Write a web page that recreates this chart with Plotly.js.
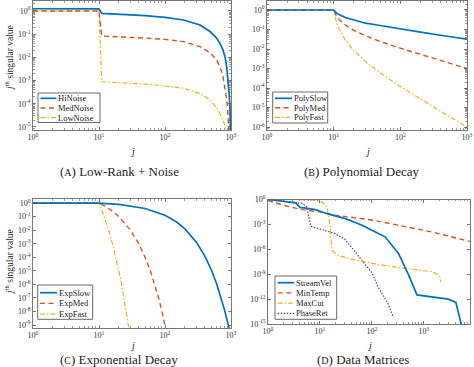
<!DOCTYPE html>
<html><head><meta charset="utf-8">
<script src="https://cdn.plot.ly/plotly-3.0.1.min.js"></script>
<style>html,body{margin:0;padding:0;background:#fff}#chart{width:474px;height:367px}</style>
</head><body><div id="chart"></div>
<script>
// ---------- DATA ----------
// (A) Low-Rank + Noise
const jHiNoise  = [1, 10, 11, 15, 20, 30, 50, 100, 190, 340, 480, 600, 680, 750, 810, 860, 910, 940, 966, 985, 1000];
const hiNoise   = [1.25, 1.22, 0.79, 0.76, 0.74, 0.70, 0.63, 0.53, 0.41, 0.25, 0.13, 0.07, 0.04, 0.022, 0.011, 0.004, 8e-4, 2.5e-4, 5e-5, 1e-5, 1e-6];
const jMedNoise = [1, 10, 11, 20, 50, 100, 190, 340, 480, 600, 680, 750, 810, 860, 890, 920, 940, 960];
const medNoise  = [1, 1, 0.083, 0.078, 0.068, 0.06, 0.048, 0.029, 0.016, 0.008, 0.004, 0.0017, 5.5e-4, 1.6e-4, 5.4e-5, 2e-5, 1e-5, 1e-6];
const jLowNoise = [1, 10, 11, 20, 59, 190, 340, 480, 600, 680, 750, 810, 870, 900];
const lowNoise  = [1, 1, 8.9e-4, 8.3e-4, 6.9e-4, 4.7e-4, 2.8e-4, 1.45e-4, 7e-5, 3.9e-5, 2.2e-5, 1.2e-5, 5e-6, 1e-6];

// (B) Polynomial Decay
const jPoly    = [1, 10, 11, 12, 15, 20, 30, 50, 100, 200, 500, 1000];
const polySlow = [1, 1, 0.71, 0.58, 0.41, 0.30, 0.21, 0.16, 0.105, 0.073, 0.045, 0.032];
const polyMed  = [1, 1, 0.5, 0.33, 0.17, 0.09, 0.048, 0.024, 0.011, 0.0052, 0.002, 0.001];
const polyFast = [1, 1, 0.25, 0.11, 0.028, 0.0083, 0.0023, 5.9e-4, 1.2e-4, 2.7e-5, 4.1e-6, 1.0e-6];

// (C) Exponential Decay
const jExpSlow = [1, 10, 20, 50, 100, 150, 200, 300, 400, 500, 600, 700, 800, 900, 1000];
const expSlow  = [1, 1, 0.79, 0.40, 0.126, 0.040, 0.0126, 1.26e-3, 1.26e-4, 1.26e-5, 1.26e-6, 1.26e-7, 1.26e-8, 1.26e-9, 1.26e-10];
const jExpMed  = [1, 10, 12, 15, 20, 30, 40, 50, 60, 70, 80, 90, 100, 110];
const expMed   = [1, 1, 0.63, 0.32, 0.1, 0.01, 1e-3, 1e-4, 1e-5, 1e-6, 1e-7, 1e-8, 1e-9, 1e-10];
const jExpFast = [1, 10, 11, 12, 14, 16, 18, 20, 22, 24, 26, 28, 30];
const expFast  = [1, 1, 0.32, 0.1, 0.01, 1e-3, 1e-4, 1e-5, 1e-6, 1e-7, 1e-8, 1e-9, 1e-10];

// (D) Data Matrices
const jStreamVel = [1, 2, 3.4, 4.2, 5, 8.1, 14.8, 31, 65, 100, 180, 325, 500, 740, 1420, 2960, 4150, 4650, 5250];
const streamVel  = [1, 0.55, 0.4, 0.107, 0.1, 0.06, 0.017, 5e-3, 7.9e-4, 2e-4, 3.2e-5, 3.2e-7, 1.1e-9, 3.2e-12, 2e-12, 1e-12, 4e-13, 1.6e-14, 1e-15];
const jMinTemp   = [1, 2, 4.5, 10.8, 19.5, 50, 106, 325, 1420, 6200, 7800];
const minTemp    = [0.75, 0.2, 0.06, 0.03, 0.013, 0.0058, 3.2e-3, 7.9e-4, 1.25e-4, 1.25e-5, 9e-6];
const jMaxCut    = [1, 3, 7, 10.9, 13.7, 15.8, 17, 21.3, 35.8, 100, 325, 1420, 1770, 2050, 2150];
const maxCut     = [1, 0.98, 0.9, 0.52, 0.13, 5e-4, 8e-7, 2e-7, 8e-8, 2e-8, 6.3e-9, 2e-9, 1.1e-9, 4.5e-10, 1.1e-10];
const jPhaseRet  = [1, 3, 4.5, 5.5, 6.7, 10.8, 19.5, 30.5, 48, 74, 100, 133, 207, 260];
const phaseRet   = [1, 0.5, 0.35, 0.15, 6e-4, 2.4e-4, 8e-5, 1.6e-5, 5e-7, 1.6e-8, 1.5e-9, 2.5e-11, 2.5e-13, 6.3e-15];

// legend names
const namesA = ['HiNoise', 'MedNoise', 'LowNoise'];
const namesB = ['PolySlow', 'PolyMed', 'PolyFast'];
const namesC = ['ExpSlow', 'ExpMed', 'ExpFast'];
const namesD = ['StreamVel', 'MinTemp', 'MaxCut', 'PhaseRet'];

// tick label exponents
const xTickExp  = [0, 1, 2, 3];
const yTickExpA = [0, -1, -2, -3, -4, -5];
const yTickExpB = [0, -1, -2, -3, -4, -5, -6];
const yTickExpC = [0, -1, -2, -3, -4, -5, -6, -7, -8, -9];
const yTickExpD = [0, -3, -6, -9, -12, -15];

// captions
const captions = ['(<span style="font-size:10px">A</span>) Low-Rank + Noise', '(<span style="font-size:10px">B</span>) Polynomial Decay',
                  '(<span style="font-size:10px">C</span>) Exponential Decay', '(<span style="font-size:10px">D</span>) Data Matrices'];

// ---------- STYLE ----------
const W = 474, H = 367;
const FONT = 'Liberation Serif, Times New Roman, serif';
const styles = [
  {color: '#0072BD', width: 1.7, dash: 'solid'},
  {color: '#D95319', width: 1.4, dash: '5px,3.5px'},
  {color: '#EDB120', width: 1.2, dash: '5px,2px,1.5px,2px'},
  {color: '#7E2F8E', width: 1.2, dash: '1.5px,1.5px'}
];
const px = x => x / W;
const py = y => 1 - y / H;

function lab(e) { return '10<sup>' + (e < 0 ? '-' + (-e) : e) + '</sup>'; }
function minorVals(lo, hi) {
  const v = [];
  for (let k = lo; k < hi; k++) for (let m = 2; m <= 9; m++) v.push(m * Math.pow(10, k));
  return v;
}
function logAxis(domain, range, exps, anchor, minor) {
  const ax = {
    type: 'log', domain: domain, range: range, anchor: anchor,
    tickmode: 'array', tickvals: exps.map(e => Math.pow(10, e)), ticktext: exps.map(lab),
    ticks: 'inside', ticklen: 3, tickwidth: 0.8, tickcolor: '#555',
    showline: true, linecolor: '#555', linewidth: 0.8, mirror: 'ticks',
    showgrid: false, zeroline: false, fixedrange: true,
    tickfont: {family: FONT, size: 8, color: '#333'}
  };
  if (minor) ax.minor = {tickmode: 'array', tickvals: minorVals(minor[0], minor[1]), ticks: 'inside',
                         ticklen: 1.8, tickwidth: 0.6, tickcolor: '#555', showgrid: false};
  return ax;
}

// ---------- TRACES ----------
function tr(x, y, name, s, xa, ya) {
  return {x: x, y: y, name: name, type: 'scatter', mode: 'lines', xaxis: xa, yaxis: ya, showlegend: false,
          line: {color: s.color, width: s.width, dash: s.dash}, hoverinfo: 'skip'};
}
const data = [
  tr(jLowNoise, lowNoise, namesA[2], styles[2], 'x', 'y'),
  tr(jMedNoise, medNoise, namesA[1], styles[1], 'x', 'y'),
  tr(jHiNoise, hiNoise, namesA[0], styles[0], 'x', 'y'),
  tr(jPoly, polyFast, namesB[2], styles[2], 'x2', 'y2'),
  tr(jPoly, polyMed, namesB[1], styles[1], 'x2', 'y2'),
  tr(jPoly, polySlow, namesB[0], styles[0], 'x2', 'y2'),
  tr(jExpFast, expFast, namesC[2], styles[2], 'x3', 'y3'),
  tr(jExpMed, expMed, namesC[1], styles[1], 'x3', 'y3'),
  tr(jExpSlow, expSlow, namesC[0], styles[0], 'x3', 'y3'),
  tr(jPhaseRet, phaseRet, namesD[3], styles[3], 'x4', 'y4'),
  tr(jMaxCut, maxCut, namesD[2], styles[2], 'x4', 'y4'),
  tr(jMinTemp, minTemp, namesD[1], styles[1], 'x4', 'y4'),
  tr(jStreamVel, streamVel, namesD[0], styles[0], 'x4', 'y4')
];

// ---------- LAYOUT ----------
const dA = {x: [px(33), px(231)], y: [py(130), py(1)]};
const dB = {x: [px(267), px(467)], y: [py(130), py(1)]};
const dC = {x: [px(33), px(231)], y: [py(328), py(199)]};
const dD = {x: [px(268), px(470)], y: [py(324), py(199.5)]};

const shapes = [], annotations = [];
function legendBox(box, y0, step, lx0, lx1, names) {
  shapes.push({type: 'rect', xref: 'paper', yref: 'paper', x0: px(box[0]), x1: px(box[2]), y0: py(box[3]), y1: py(box[1]),
               fillcolor: '#fff', line: {color: '#444', width: 0.8}, layer: 'above'});
  names.forEach((n, i) => {
    const y = y0 + i * step, s = styles[i];
    shapes.push({type: 'line', xref: 'paper', yref: 'paper', x0: px(lx0), x1: px(lx1), y0: py(y), y1: py(y),
                 line: {color: s.color, width: s.width, dash: s.dash}, layer: 'above'});
    annotations.push({xref: 'paper', yref: 'paper', x: px(lx1 + 0.5), y: py(y), xanchor: 'left', yanchor: 'middle',
                      text: n, showarrow: false, borderpad: 0, font: {family: FONT, size: 8.5, color: '#222'}});
  });
}
legendBox([38, 93, 100, 122.5], 98.3, 9.7, 40.5, 56.5, namesA);
legendBox([272.7, 92, 327.7, 123], 98.3, 9.5, 275, 292, namesB);
legendBox([37.7, 285, 92.7, 319.3], 292.7, 10.7, 40, 57, namesC);
legendBox([275, 276, 336.7, 319.3], 282.7, 10.2, 277.7, 294.3, namesD);

function textAt(x, y, text, size, extra) {
  annotations.push(Object.assign({xref: 'paper', yref: 'paper', x: px(x), y: py(y), xanchor: 'center', yanchor: 'middle',
                    text: text, showarrow: false, font: {family: FONT, size: size, color: '#222'}}, extra || {}));
}
// x titles
textAt(132, 151, '<i>j</i>', 10);
textAt(367, 151, '<i>j</i>', 10);
textAt(132, 345, '<i>j</i>', 10);
textAt(369, 345, '<i>j</i>', 10);
// y titles
textAt(9, 58, '<i>j</i><sup>th</sup> singular value', 9.5, {textangle: -90});
textAt(9, 262, '<i>j</i><sup>th</sup> singular value', 9.5, {textangle: -90});
// captions
textAt(119, 171, captions[0], 13);
textAt(361, 171, captions[1], 13);
textAt(119, 359, captions[2], 13);
textAt(363, 359, captions[3], 13);

const layout = {
  width: W, height: H, margin: {l: 0, r: 0, t: 0, b: 0},
  paper_bgcolor: '#fff', plot_bgcolor: '#fff', showlegend: false,
  xaxis:  logAxis(dA.x, [0, 3], xTickExp, 'y', [0, 3]),
  yaxis:  logAxis(dA.y, [-5.13, 0.43], yTickExpA, 'x', [-6, 1]),
  xaxis2: logAxis(dB.x, [0, 3], xTickExp, 'y2', [0, 3]),
  yaxis2: logAxis(dB.y, [-6.15, 0.46], yTickExpB, 'x2', [-7, 1]),
  xaxis3: logAxis(dC.x, [0, 3], xTickExp, 'y3', [0, 3]),
  yaxis3: logAxis(dC.y, [-9.22, 0.3], yTickExpC, 'x3', null),
  xaxis4: logAxis(dD.x, [0, 3.89], xTickExp, 'y4', [0, 4]),
  yaxis4: logAxis(dD.y, [-15, 0], yTickExpD, 'x4', null),
  shapes: shapes, annotations: annotations
};

Plotly.newPlot('chart', data, layout, {staticPlot: true, displayModeBar: false});
</script></body></html>
